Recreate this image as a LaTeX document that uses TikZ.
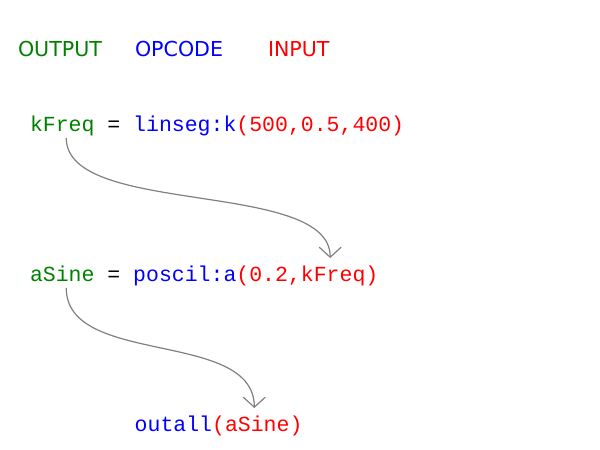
\documentclass[tikz,border=0pt]{standalone}
\usepackage{fontspec}
\setmainfont{DejaVu Sans}
\newfontfamily\codefont{Liberation Mono}
\usetikzlibrary{arrows.meta}
\definecolor{outgreen}{RGB}{0,128,0}
\definecolor{opblue}{RGB}{0,0,255}
\definecolor{inred}{RGB}{255,0,0}
\definecolor{conngray}{RGB}{128,128,128}
\tikzset{
  head/.style={inner sep=0pt, outer sep=0pt, anchor=base west, font=\fontsize{20.6}{24}\selectfont},
  code/.style={inner sep=0pt, outer sep=0pt, anchor=base west, text height=23pt, text depth=7pt,
    font=\codefont\fontsize{21.5}{24}\selectfont},
  outv/.style={code, text=outgreen},
  opc/.style={code, text=opblue},
  inp/.style={code, text=inred},
  eqs/.style={code, text=black},
  conn/.style={draw=conngray, line width=1.2pt, -{Straight Barb[length=10pt,width=22pt]}}
}
\begin{document}
\begin{tikzpicture}[x=1pt,y=-1pt]
\useasboundingbox (0,0) rectangle (600,450);
% headers
\node[head, text=outgreen] (hout) at (18,56) {OUTPUT};
\node[head, text=opblue] (hop) at (135,56) {OPCODE};
\node[head, text=inred] (hin) at (268,56) {INPUT};
% line 1
\node[outv] (o1) at (30,131) {kFreq};
\node[eqs] (e1) at (o1.base east) {\kern0pt~=~\kern0pt};
\node[opc] (p1) at (e1.base east) {linseg:k};
\node[inp] (a1) at (p1.base east) {(500,0.5,400)};
% line 2
\node[outv] (o2) at (30,281) {aSine};
\node[eqs] (e2) at (o2.base east) {\kern0pt~=~\kern0pt};
\node[opc] (p2) at (e2.base east) {poscil:a};
\node[inp] (a2) at (p2.base east) {(0.2,};
\node[inp] (i2) at (a2.base east) {kFreq};
\node[inp] (c2) at (i2.base east) {)};
% line 3
\node[opc] (p3) at ([xshift=1.5pt]p2.base west |- 0,431) {outall};
\node[inp] (a3) at (p3.base east) {(};
\node[inp] (i3) at (a3.base east) {aSine};
\node[inp] (c3) at (i3.base east) {)};
% connectors
\draw[conn] ([xshift=4pt]o1.south) .. controls +(0,79) and +(0,-79) .. ([xshift=-3pt]i2.north);
\draw[conn] ([xshift=4pt]o2.south) .. controls +(0,79) and +(0,-79) .. ([xshift=-3pt]i3.north);
\end{tikzpicture}
\end{document}
